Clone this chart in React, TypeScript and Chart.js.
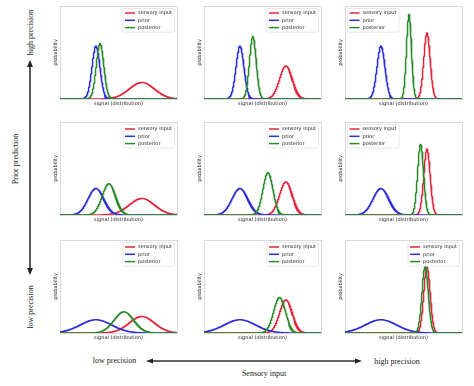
import React, { useEffect, useRef } from "react";
import { Chart, registerables } from "chart.js";

Chart.register(...registerables);

// ---- data ----
const seriesLabels = ["sensory input", "prior", "posterior"];
const seriesColors = ["#e0263a", "#2c2cd6", "#2a8a2a"];
const xTitle = "signal (distribution)";
const yTitle = "probability";
const xMin = 0;
const xMax = 13;
const yMin = 0;
const yMax = 1.58;
// rows: prior precision high -> low
const priorMean = [4.0, 4.0, 4.0];
const priorSd = [0.443, 0.886, 1.77];
// columns: sensory precision low -> high
const sensoryMean = [9.11, 9.11, 9.11];
const sensorySd = [1.42, 0.71, 0.356];
// posterior per panel (row-major)
const posteriorMean = [4.45, 5.43, 7.11, 5.44, 7.11, 8.4, 7.11, 8.4, 8.91];
const posteriorSd = [0.423, 0.376, 0.278, 0.753, 0.555, 0.33, 1.108, 0.66, 0.349];
const legendCorner = ["right", "right", "left", "right", "right", "left", "right", "right", "right"];

// ---- layout ----
const colLeft = [60, 204, 345];
const rowTop = [6, 122, 240];
const areaW = 117;
const areaH = 93;
const frameColor = "#d9d9d9";
const textColor = "#222";
const curveWidth = 1.5;

const xs: number[] = [];
for (let i = 0; i <= 650; i++) xs.push(xMin + ((xMax - xMin) * i) / 650);

function gauss(x: number, m: number, s: number) {
  return Math.exp(-0.5 * ((x - m) / s) ** 2) / (s * Math.sqrt(2 * Math.PI));
}

function makeLegendPlugin(corner: string) {
  return {
    id: "insideLegend",
    afterDatasetsDraw(chart: any) {
      const { ctx, chartArea: a } = chart;
      ctx.save();
      ctx.font = '5px "DejaVu Sans"';
      const tw = Math.max(...seriesLabels.map((l) => ctx.measureText(l).width));
      const w = 15 + tw + 2.5;
      const h = 23.6;
      const x0 = corner === "left" ? a.left + 2.5 : a.right - 2.5 - w;
      const y0 = a.top + 2.5;
      ctx.beginPath();
      if ((ctx as any).roundRect) (ctx as any).roundRect(x0, y0, w, h, 1.5);
      else ctx.rect(x0, y0, w, h);
      ctx.fillStyle = "rgba(255,255,255,0.8)";
      ctx.fill();
      ctx.strokeStyle = "#e2e2e2";
      ctx.lineWidth = 0.8;
      ctx.stroke();
      seriesLabels.forEach((lab, k) => {
        const y = y0 + 4.5 + k * 7.3;
        ctx.beginPath();
        ctx.moveTo(x0 + 2, y);
        ctx.lineTo(x0 + 12, y);
        ctx.strokeStyle = seriesColors[k];
        ctx.lineWidth = curveWidth;
        ctx.stroke();
        ctx.fillStyle = textColor;
        ctx.textBaseline = "middle";
        ctx.textAlign = "left";
        ctx.fillText(lab, x0 + 15, y);
      });
      ctx.restore();
    },
  };
}

const hiddenAxis = (position: string) => ({
  type: "linear" as const,
  position,
  display: true,
  grid: { display: false, drawTicks: false },
  ticks: { display: false },
  border: { display: true, color: frameColor, width: 1 },
});

function Panel({ idx }: { idx: number }) {
  const ref = useRef<HTMLCanvasElement>(null);
  const r = Math.floor(idx / 3);
  const c = idx % 3;
  useEffect(() => {
    const params = [
      [sensoryMean[c], sensorySd[c]],
      [priorMean[r], priorSd[r]],
      [posteriorMean[idx], posteriorSd[idx]],
    ];
    const datasets = params.map(([m, s], k) => ({
      label: seriesLabels[k],
      data: xs.map((x) => ({ x, y: gauss(x, m, s) })),
      borderColor: seriesColors[k],
      backgroundColor: seriesColors[k],
      borderWidth: curveWidth,
      pointRadius: 0,
      tension: 0,
      fill: false,
      order: 2 - k,
    }));
    const chart = new Chart(ref.current as HTMLCanvasElement, {
      type: "line",
      data: { datasets },
      options: {
        responsive: false,
        animation: false,
        devicePixelRatio: 1,
        layout: { padding: { left: 2, top: 2, right: 2, bottom: 2 } },
        plugins: { legend: { display: false }, tooltip: { enabled: false } },
        scales: {
          x: {
            ...hiddenAxis("bottom"),
            min: xMin,
            max: xMax,
            title: {
              display: true,
              text: xTitle,
              color: textColor,
              font: { family: "DejaVu Sans", size: 5 },
              padding: { top: 2, bottom: 0 },
            },
          },
          y: {
            ...hiddenAxis("left"),
            min: yMin,
            max: yMax,
            title: {
              display: true,
              text: yTitle,
              color: textColor,
              font: { family: "DejaVu Sans", size: 5 },
              padding: { top: 1, bottom: 1 },
            },
          },
          x2: { ...hiddenAxis("top"), min: xMin, max: xMax },
          y2: { ...hiddenAxis("right"), min: yMin, max: yMax },
        } as any,
      },
      plugins: [makeLegendPlugin(legendCorner[idx])],
    });
    return () => chart.destroy();
  }, [idx, r, c]);
  return (
    <canvas
      ref={ref}
      width={areaW + 12}
      height={areaH + 12}
      style={{
        position: "absolute",
        left: colLeft[c] - 10,
        top: rowTop[r] - 2,
        width: areaW + 12,
        height: areaH + 12,
      }}
    />
  );
}

export default function App() {
  const serif = '"Liberation Serif", "Times New Roman", serif';
  const txt = (x: number, y: number, s: string, rot = false) => (
    <text
      x={x}
      y={y}
      textAnchor="middle"
      dominantBaseline="central"
      fontFamily={serif}
      fontSize={8}
      fill={textColor}
      transform={rot ? `rotate(-90 ${x} ${y})` : undefined}
    >
      {s}
    </text>
  );
  return (
    <div style={{ position: "fixed", left: 0, top: 0, width: 474, height: 386, background: "#fff", overflow: "hidden" }}>
      <svg width={474} height={386} style={{ position: "absolute", left: 0, top: 0 }}>
        <line x1={30} y1={66} x2={30} y2={269} stroke="#222" strokeWidth={1.5} />
        <polygon points="30,60 27,67 33,67" fill="#222" />
        <polygon points="30,275 27,268 33,268" fill="#222" />
        <line x1={152} y1={361} x2={356} y2={361} stroke="#333" strokeWidth={1.5} />
        <polygon points="146,361 153,358.5 153,363.5" fill="#222" />
        <polygon points="362,361 355,358.5 355,363.5" fill="#222" />
        {txt(30, 32.5, "high precision", true)}
        {txt(15, 159, "Prior prediction", true)}
        {txt(30, 307, "low precision", true)}
        {txt(114.5, 360, "low precision")}
        {txt(397, 361, "high precision")}
        {txt(264, 373, "Sensory input")}
      </svg>
      {Array.from({ length: 9 }, (_, i) => (
        <Panel key={i} idx={i} />
      ))}
    </div>
  );
}
